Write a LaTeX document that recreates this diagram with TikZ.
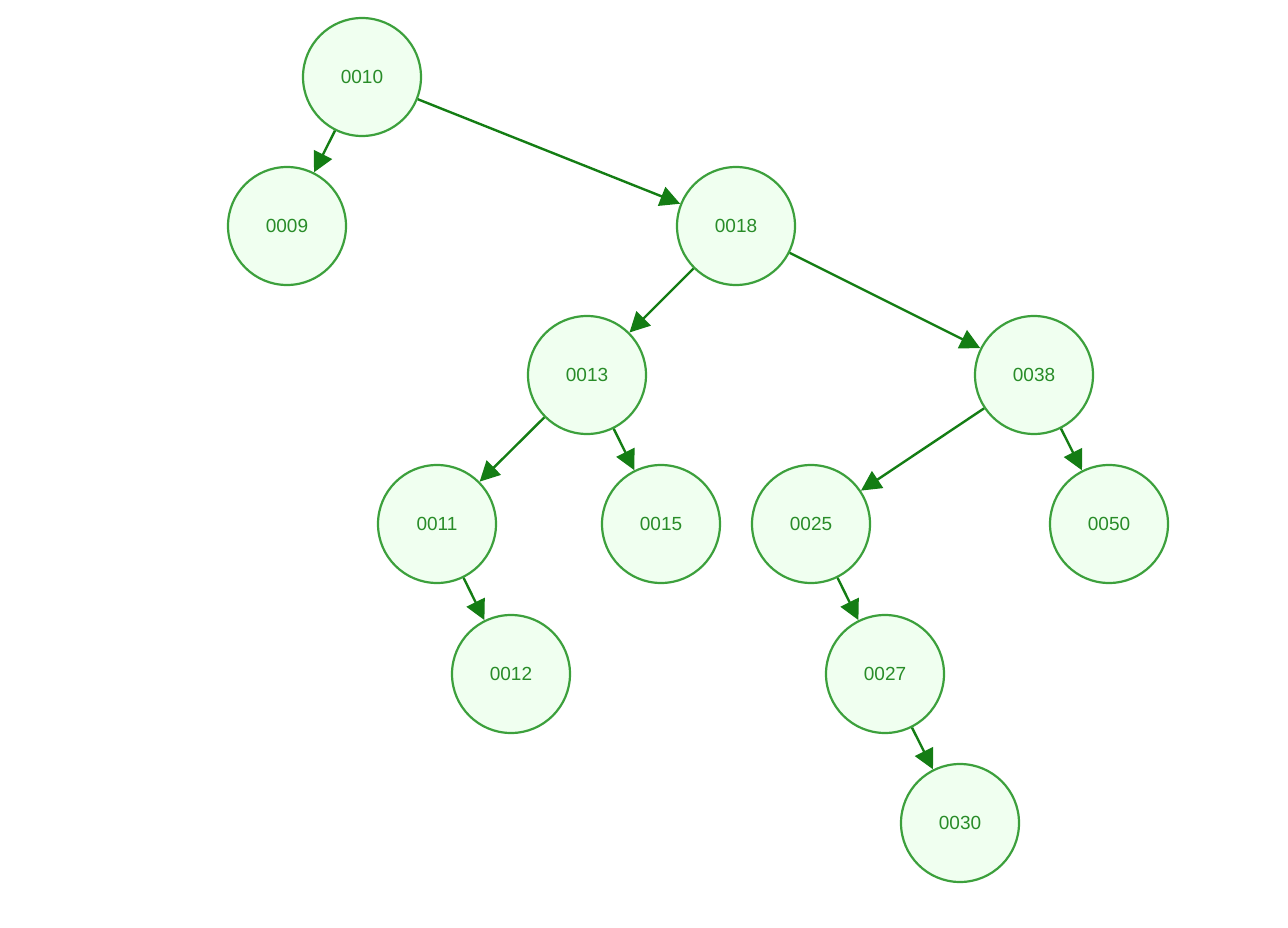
\documentclass[tikz,border=0pt]{standalone}
\usepackage{fontspec}
\setmainfont{Liberation Sans}
\usetikzlibrary{arrows.meta}
\definecolor{nstroke}{RGB}{60,160,60}
\definecolor{nfill}{RGB}{240,255,240}
\definecolor{ntext}{RGB}{40,140,40}
\definecolor{edge}{RGB}{20,125,20}
\begin{document}
\begin{tikzpicture}[x=1pt,y=-1pt,
  tn/.style={circle,draw=nstroke,fill=nfill,line width=2.2pt,minimum size=118pt,inner sep=0pt,text=ntext,font=\fontsize{19}{22}\selectfont},
  ed/.style={draw=edge,line width=2.4pt,-{Triangle[length=20pt,width=20pt]}}]
\useasboundingbox (0,0) rectangle (1288,928);
\node[tn] (a) at (362,77) {0010};
\node[tn] (b) at (287,226) {0009};
\node[tn] (c) at (736,226) {0018};
\node[tn] (d) at (587,375) {0013};
\node[tn] (e) at (1034,375) {0038};
\node[tn] (f) at (437,524) {0011};
\node[tn] (g) at (661,524) {0015};
\node[tn] (h) at (811,524) {0025};
\node[tn] (i) at (1109,524) {0050};
\node[tn] (j) at (511,674) {0012};
\node[tn] (k) at (885,674) {0027};
\node[tn] (l) at (960,823) {0030};
\draw[ed] (a) -- (b);
\draw[ed] (a) -- (c);
\draw[ed] (c) -- (d);
\draw[ed] (c) -- (e);
\draw[ed] (d) -- (f);
\draw[ed] (d) -- (g);
\draw[ed] (e) -- (h);
\draw[ed] (e) -- (i);
\draw[ed] (f) -- (j);
\draw[ed] (h) -- (k);
\draw[ed] (k) -- (l);
\end{tikzpicture}
\end{document}
